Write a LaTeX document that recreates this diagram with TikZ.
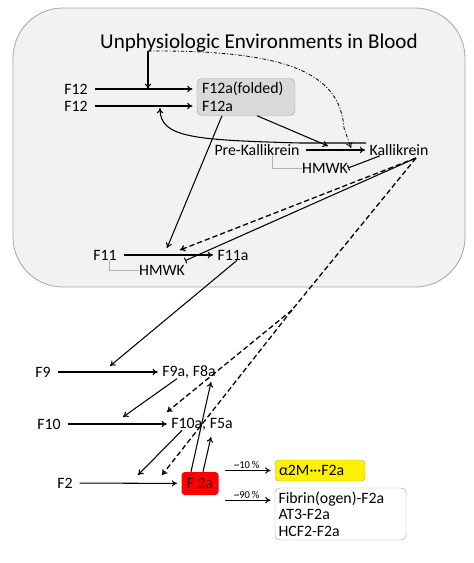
\documentclass[tikz,border=0pt]{standalone}
\usepackage{fontspec}
\setmainfont{Carlito}
\usetikzlibrary{arrows.meta,positioning}
\begin{document}
\begin{tikzpicture}[x=0.3mm, y=-0.3mm,
        fac/.style={inner sep=0pt, font=\fontsize{13.5}{15}\selectfont},
        arr/.style={-{To[length=4.5pt,width=5.5pt]}, line width=0.9pt},
        harr/.style={arr, shorten <=2mm, shorten >=1.3mm},
        darr/.style={arr, dash pattern=on 4.5pt off 2.5pt, line width=1.1pt},
        inh/.style={-{Bar[width=5pt]}, line width=0.9pt},
        brk/.style={draw=gray!60, line width=0.6pt},
        pct/.style={font=\fontsize{9}{10}\selectfont, inner sep=0.8pt}]
    \useasboundingbox (0,0) rectangle (474,563);

    % Environment
    \draw[draw=gray!70, fill=gray!10, rounded corners=15mm, line width=0.7pt] (13,8) rectangle (465,287);
    \node[font=\fontsize{18}{20}\selectfont, inner sep=0pt] (title) at (259,43) {Unphysiologic Environments in Blood};
    \coordinate (env) at (148,51);

    % Contact activation
    \node[fac] (f12t) at (76,89) {F12};
    \node[fac] (f12b) at (76,106) {F12};
    \node[fac, draw=gray!70, fill=gray!30, rounded corners=1.5mm, text width=26.4mm, inner xsep=1.5mm,
        minimum height=11.1mm, align=left, font=\fontsize{13.5}{15}\selectfont] (f12a) at (246,97) {F12a(folded)\\F12a};
    \node[fac] (prek) at (257,150) {Pre-Kallikrein};
    \node[fac] (kal) at (399,150) {Kallikrein};
    \node[fac] (hmwk1) at (325,168) {HMWK};
    \node[fac] (f11) at (105,255) {F11};
    \node[fac] (f11a) at (233,255) {F11a};
    \node[fac] (hmwk2) at (162,270) {HMWK};

    % Coagulation
    \node[fac] (f9) at (43,372) {F9};
    \node[fac] (f9a) at (189,372) {F9a, F8a};
    \node[fac] (f10) at (49,424) {F10};
    \node[fac] (f10a) at (202,424) {F10a, F5a};
    \node[fac] (f2) at (65,483) {F2};
    \node[fac, fill=red, rounded corners=1mm, minimum width=11.1mm, minimum height=6.9mm,
        text=black!75!red] (f2a) at (200,483.5) {F 2a};
    \node[fac, draw=gray!70, fill=yellow, rounded corners=1mm, text width=24.6mm, inner xsep=1.2mm,
        minimum height=6.3mm, align=left] (a2m) at (320,470.5) {α2M···F2a};
    \node[fac, draw=gray!70, rounded corners=1.5mm, text width=37.2mm, inner xsep=1.05mm,
        minimum height=15.6mm, align=left, font=\fontsize{13.5}{14}\selectfont] (fib) at (340.5,514)
        {Fibrin(ogen)-F2a\\AT3-F2a\\HCF2-F2a};

    % Ends on other arrows
    \coordinate (kfb) at (366,143);
    \coordinate (in12) at (160,108);
    \coordinate (inpk) at (328,146);
    \coordinate (indd) at (351,148);
    \coordinate (kout) at (416,158);
    \coordinate (in11) at (167,248);
    \coordinate (in11d) at (180,250);
    \coordinate (fork) at (292,310);
    \coordinate (in9) at (110,366);
    \coordinate (in10) at (123,417);
    \coordinate (in10d) at (167,412);
    \coordinate (in2) at (138,475);
    \coordinate (in2d) at (162,475);

    % F12 activation
    \draw[arr] (env) -- (env |- f12t);
    \draw[harr] (f12t) -- (f12t -| f12a.west);
    \draw[harr] (f12b) -- (f12b -| f12a.west);
    \draw[line width=0.7pt, dash pattern=on 3pt off 1.6pt on 0.8pt off 1.6pt, -{To[length=4.5pt,width=5.5pt]}]
        (env) .. controls (285,50) and (340,72) .. (344,128) -- (indd);
    \draw[arr] (kfb) -- (300,143) .. controls (195,140) and (160,138) .. (in12);
    \draw[arr] ([xshift=3.3mm]f12a.south) -- (inpk);
    \draw[harr] (prek) -- (kal);
    \draw[brk] ([xshift=4.5mm]prek.south) |- (hmwk1.west);
    \draw[inh] ([xshift=-5.7mm]kal.south) -- (hmwk1.east);

    % F11 activation
    \draw[arr] ([xshift=-7.2mm]f12a.south) -- (in11);
    \draw[harr] (f11) -- (f11a);
    \draw[brk] ([xshift=1.2mm]f11.south) |- (hmwk2.west);
    \draw[darr] (kout) -- (in11d);
    \draw[inh] (kout) -- ([yshift=1.2mm]hmwk2.north east);
    \draw[dash pattern=on 4.5pt off 2.5pt, line width=1.1pt] (kout) -- (fork);

    % Cascade
    \draw[arr] ([xshift=1.2mm]f11a.south) -- (in9);
    \draw[harr] (f9) -- (f9a);
    \draw[arr] ([xshift=-3.6mm]f9a.south) -- (in10);
    \draw[darr] (fork) -- (in10d);
    \draw[harr] (f10) -- (f10a);
    \draw[arr] ([xshift=-6mm]f10a.south) -- (in2);
    \draw[darr] (fork) -- (in2d);
    \draw[harr] (f2) -- (f2a);
    \draw[arr] ([xshift=-2.7mm]f2a.north) -- ([xshift=6.6mm,yshift=-1mm]f9a.south);
    \draw[arr] ([xshift=0.9mm]f2a.north) -- ([xshift=2.7mm,yshift=-2mm]f10a.south);

    % Thrombin fate
    \draw[harr] (f2a.east |- a2m) -- node[pct, above] {\textasciitilde10\,\%} (a2m);
    \draw[harr] ([yshift=-1.5mm]f2a.south east) -- node[pct, above] {\textasciitilde90\,\%} ([yshift=-1.5mm]f2a.south east -| fib.west);
\end{tikzpicture}
\end{document}
